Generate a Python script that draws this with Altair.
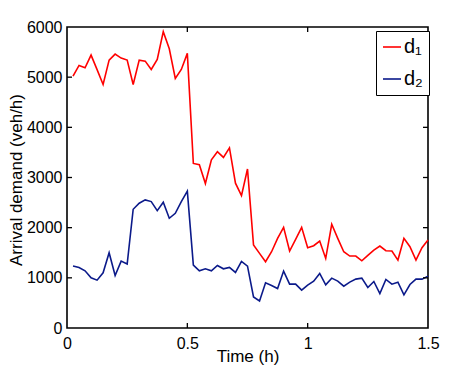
import altair as alt
import pandas as pd

times = [0.025, 0.05, 0.075, 0.1, 0.125, 0.15, 0.175, 0.2, 0.225, 0.25,
         0.275, 0.3, 0.325, 0.35, 0.375, 0.4, 0.425, 0.45, 0.475, 0.5,
         0.525, 0.55, 0.575, 0.6, 0.625, 0.65, 0.675, 0.7, 0.725, 0.75,
         0.775, 0.8, 0.825, 0.85, 0.875, 0.9, 0.925, 0.95, 0.975, 1.0,
         1.025, 1.05, 1.075, 1.1, 1.125, 1.15, 1.175, 1.2, 1.225, 1.25,
         1.275, 1.3, 1.325, 1.35, 1.375, 1.4, 1.425, 1.45, 1.475, 1.5]

d1 = [5020, 5234, 5187, 5440, 5150, 4854, 5340, 5460, 5380, 5340,
      4854, 5340, 5320, 5154, 5354, 5907, 5567, 4974, 5154, 5474,
      3280, 3254, 2880, 3354, 3514, 3400, 3590, 2887, 2640, 3170,
      1654, 1487, 1320, 1520, 1787, 2007, 1534, 1767, 2007, 1600,
      1640, 1734, 1387, 2067, 1787, 1520, 1434, 1434, 1340, 1447,
      1554, 1634, 1540, 1534, 1354, 1787, 1620, 1354, 1600, 1754]

d2 = [1234, 1207, 1140, 1000, 954, 1100, 1500, 1047, 1334, 1274,
      2367, 2487, 2554, 2520, 2340, 2507, 2187, 2287, 2520, 2727,
      1254, 1140, 1180, 1140, 1247, 1180, 1207, 1107, 1327, 1234,
      620, 540, 900, 847, 787, 1134, 874, 874, 754, 854,
      934, 1087, 860, 994, 934, 834, 914, 974, 994, 807,
      927, 687, 967, 874, 914, 660, 867, 974, 974, 1034]

series_names = ["d\u2081", "d\u2082"]
series_colors = ["#ff0000", "#0b1a8a"]

x_ticks = [0, 0.5, 1, 1.5]
y_ticks = [0, 1000, 2000, 3000, 4000, 5000, 6000]
x_inner_ticks = [0.5, 1.0]
y_inner_ticks = [1000, 2000, 3000, 4000, 5000]

W, H = 361, 301
FONT = "Liberation Sans"

df = pd.DataFrame({
    "t": times * 2,
    "v": d1 + d2,
    "s": [series_names[0]] * len(times) + [series_names[1]] * len(times),
})

xs = alt.Scale(domain=[0, 1.5], nice=False, zero=False)
ys = alt.Scale(domain=[0, 6000], nice=False)

x_axis = alt.Axis(
    values=x_ticks, title="Time (h)",
    labelExpr="datum.value == 0 ? '0' : format(datum.value, '')",
    ticks=False, domain=False, grid=False, labelPadding=7,
    titleY=28, titleBaseline="middle", labelFlush=False)
y_axis = alt.Axis(
    values=y_ticks, title="Arrival demand (veh/h)", format="d",
    ticks=False, domain=False, grid=False, labelPadding=5,
    titleX=-51, titleY=H / 2 + 2, titleBaseline="middle", titleAlign="center",
    titleAngle=-90)

lines = alt.Chart(df).mark_line(strokeWidth=1.6).encode(
    x=alt.X("t:Q", scale=xs, axis=x_axis),
    y=alt.Y("v:Q", scale=ys, axis=y_axis),
    color=alt.Color("s:N", scale=alt.Scale(domain=series_names, range=series_colors),
                    legend=alt.Legend(orient="none", legendX=309, legendY=4, title=None,
                                      symbolType="stroke", symbolStrokeWidth=1.6,
                                      symbolSize=324, labelFontSize=20, labelFont=FONT,
                                      strokeColor="black", fillColor="white",
                                      padding=6, rowPadding=12, labelOffset=2,
                                      direction="vertical")),
)

xt = pd.DataFrame({"t": x_inner_ticks})
yt = pd.DataFrame({"v": y_inner_ticks})

xb = alt.Chart(xt).mark_rule(color="black", strokeWidth=1.3).encode(
    x=alt.X("t:Q", scale=xs, axis=x_axis), y=alt.value(H), y2=alt.value(H - 5))
xtop = alt.Chart(xt).mark_rule(color="black", strokeWidth=1.3).encode(
    x=alt.X("t:Q", scale=xs, axis=x_axis), y=alt.value(0), y2=alt.value(5))
yl = alt.Chart(yt).mark_rule(color="black", strokeWidth=1.3).encode(
    y=alt.Y("v:Q", scale=ys, axis=y_axis), x=alt.value(0), x2=alt.value(5))
yr = alt.Chart(yt).mark_rule(color="black", strokeWidth=1.3).encode(
    y=alt.Y("v:Q", scale=ys, axis=y_axis), x=alt.value(W), x2=alt.value(W - 5))

chart = alt.layer(lines, xb, xtop, yl, yr).properties(
    width=W, height=H,
    autosize=alt.AutoSizeParams(type="none"),
    padding={"left": 59, "top": 19, "right": 30, "bottom": 40},
    background="white",
).configure_view(
    stroke="black", strokeWidth=1.6
).configure_axis(
    labelFont=FONT, labelFontSize=16, labelColor="black",
    titleFont=FONT, titleFontSize=17, titleFontWeight="normal", titleColor="black",
)

chart.save("out.html", embed_options={"renderer": "svg", "actions": False})
